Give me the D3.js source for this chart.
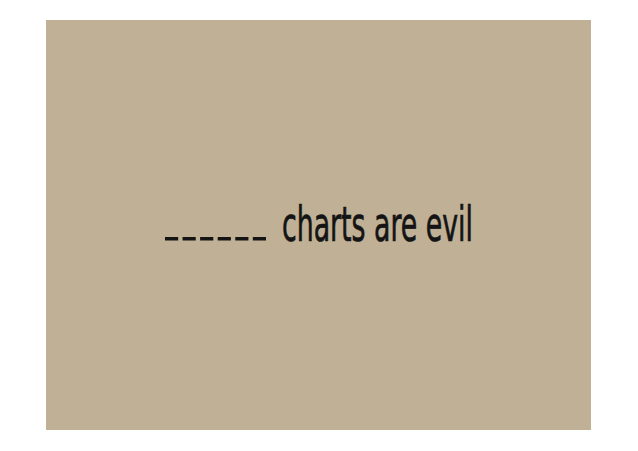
<!DOCTYPE html>
<html>
<head>
<meta charset="utf-8">
<script src="https://cdn.jsdelivr.net/npm/d3@7"></script>
<style>
  html, body { margin: 0; padding: 0; background: #ffffff; }
  svg { display: block; }
</style>
</head>
<body>
<svg id="chart" width="638" height="451"></svg>
<script>
// Content of the slide
const blankMarks = ["_", "_", "_", "_", "_", "_"];
const titleWords = ["charts", "are", "evil"];

const svg = d3.select("#chart");

// Slide panel
const panelX = d3.scaleLinear().domain([0, 1]).range([46, 591]);
const panelY = d3.scaleLinear().domain([0, 1]).range([20, 430]);

svg.append("rect")
  .attr("x", panelX(0))
  .attr("y", panelY(0))
  .attr("width", panelX(1) - panelX(0))
  .attr("height", panelY(1) - panelY(0))
  .attr("fill", "#c0b095");

const fontFamily = "'Liberation Sans Narrow', 'DejaVu Sans Condensed', 'Liberation Sans', sans-serif";
const fontSize = 48;
const baseline = 241;

// Blank dashes
const dashScale = d3.scaleBand()
  .domain(d3.range(blankMarks.length))
  .range([165, 266])
  .paddingInner(0.25);

svg.append("g")
  .selectAll("rect")
  .data(blankMarks)
  .join("rect")
  .attr("x", (d, i) => dashScale(i))
  .attr("y", baseline - 4)
  .attr("width", dashScale.bandwidth())
  .attr("height", 3.5)
  .attr("fill", "#141414");

// Title text
svg.append("text")
  .attr("x", 282)
  .attr("y", baseline)
  .attr("font-family", fontFamily)
  .attr("font-size", fontSize)
  .attr("fill", "#141414")
  .attr("stroke", "#141414")
  .attr("stroke-width", 0.7)
  .attr("textLength", 191)
  .attr("lengthAdjust", "spacingAndGlyphs")
  .text(titleWords.join(" "));
</script>
</body>
</html>
